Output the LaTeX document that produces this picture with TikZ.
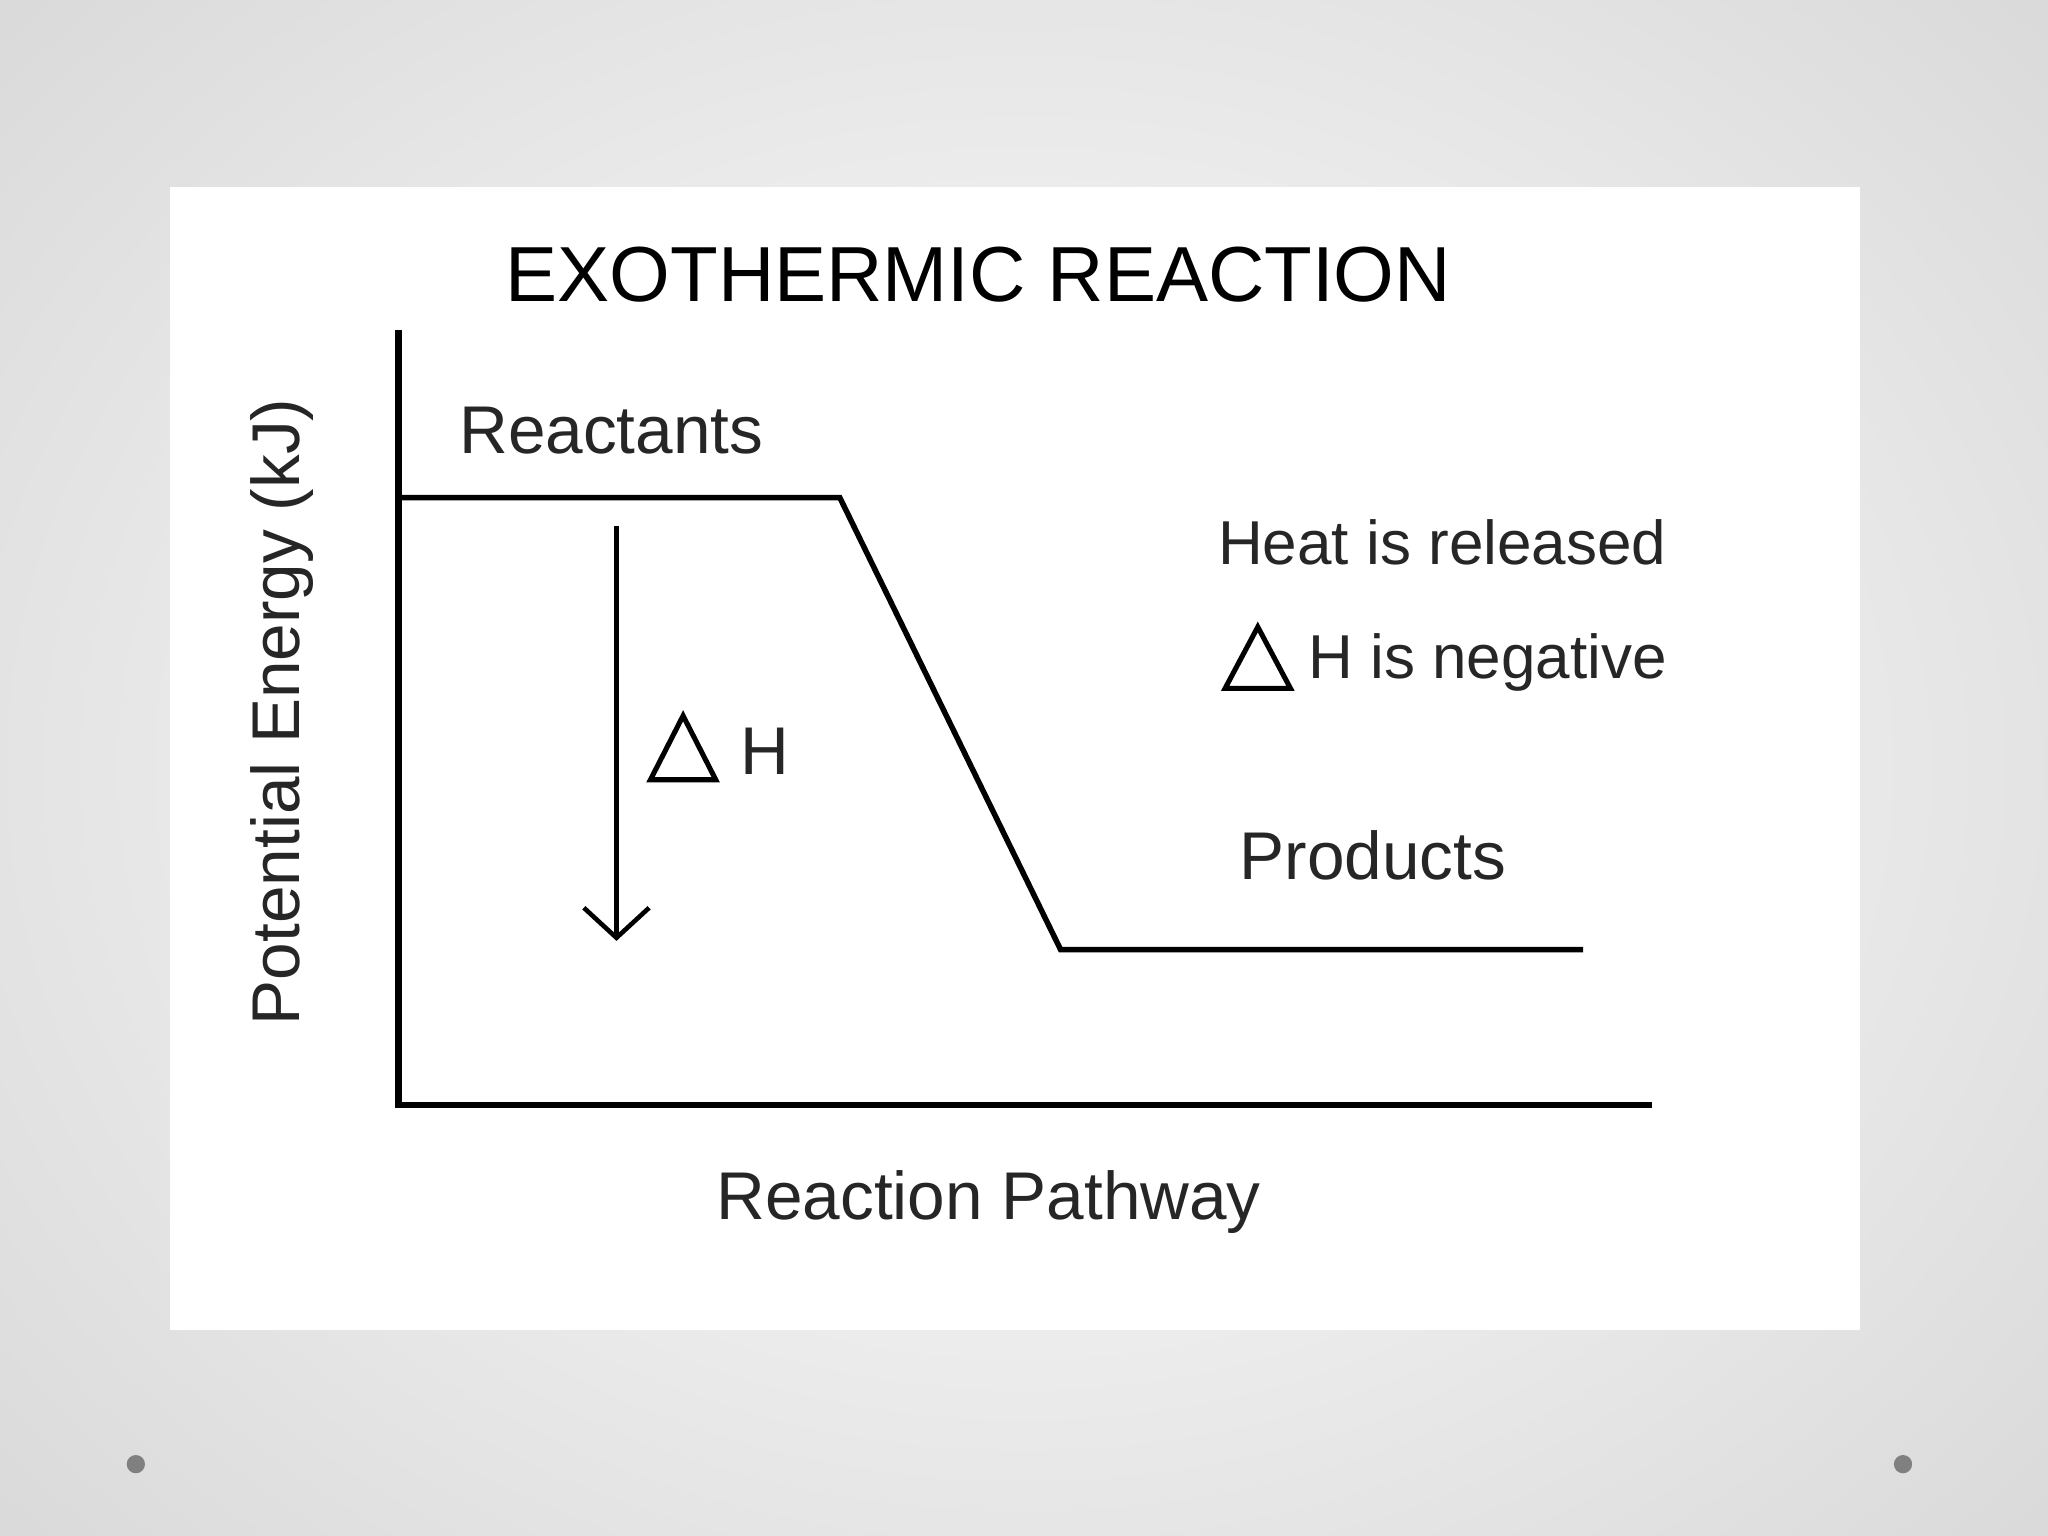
\documentclass[tikz,border=0pt]{standalone}
\usepackage{fontspec}
\setmainfont{Liberation Sans}
\begin{document}
\begin{tikzpicture}[x=0.01cm,y=-0.01cm,
  lbl/.style={inner sep=0pt,font=\fontsize{14.7}{16}\selectfont,text=black!85},
  lbs/.style={inner sep=0pt,font=\fontsize{13.5}{15}\selectfont,text=black!85}]
\useasboundingbox (0,0) rectangle (1568,1176);
\shade[inner color=white,outer color=black!15] (-300,-300) rectangle (1868,1476);
\fill[white] (130,143) rectangle (1424,1018);
\fill[black!50] (104,1121) circle (7);
\fill[black!50] (1457,1121) circle (7);
\node[inner sep=0pt,font=\fontsize{17}{19}\selectfont] (title) at (749,210) {EXOTHERMIC REACTION};
\coordinate (o) at (305,846);
\coordinate (ytop) at (305,253);
\coordinate (xend) at (1265,846);
\draw[line width=1.4pt] (ytop) -- (o) -- (xend);
\coordinate (r0) at (305,381);
\coordinate (r1) at (643,381);
\coordinate (p0) at (812,727);
\coordinate (p1) at (1212,727);
\draw[line width=1.2pt] (r0) -- (r1) -- (p0) -- (p1);
\coordinate (a0) at (472,403);
\coordinate (a1) at (472,718);
\draw[line width=1pt] (a0) -- (a1);
\draw[line width=1pt] (447,695) -- (a1) -- (497,695);
\node[lbl] (reac) at (468,330) {Reactants};
\draw[line width=1.1pt] (498,597) -- (548,597) -- (523,548) -- cycle;
\node[lbl,anchor=west] (h) at (566,575) {H};
\node[lbs,anchor=west] (heat) at (932,415) {Heat is released};
\draw[line width=1.1pt] (938,527) -- (988,527) -- (963,480) -- cycle;
\node[lbs,anchor=west] (neg) at (1001,507) {H is negative};
\node[lbl] (prod) at (1051,655) {Products};
\node[lbl] (path) at (757,920) {Reaction Pathway};
\node[lbl,rotate=90] (pe) at (216,545) {Potential Energy (kJ)};
\end{tikzpicture}
\end{document}
